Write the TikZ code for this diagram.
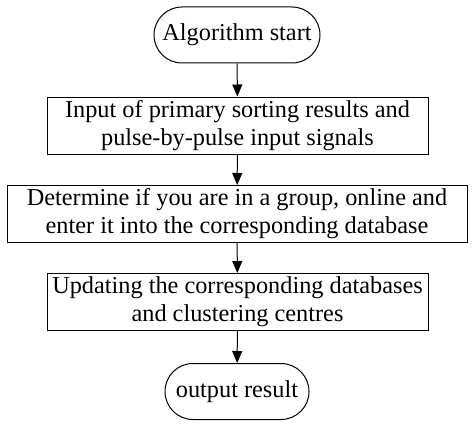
\documentclass[tikz,border=0pt]{standalone}
\usepackage{fontspec}
\setmainfont{Liberation Serif}
\usetikzlibrary{arrows.meta}

\tikzset{
  terminal/.style={draw, line width=1pt, rounded corners=28pt, minimum height=56pt, inner sep=2pt, font=\fontsize{24.3}{28}\selectfont},
  stepbox/.style={draw, line width=1pt, minimum height=57pt, inner sep=2pt, align=center, font=\fontsize{24.3}{28}\selectfont},
  flow/.style={line width=1pt, -{Triangle[width=10pt,length=12pt]}}
}

\begin{document}
\begin{tikzpicture}
\useasboundingbox (0,0) rectangle (474pt,-428pt);
\node[terminal, minimum width=166pt] (start) at (237pt,-35pt) {Algorithm start};
\node[stepbox, minimum width=381pt] (input) at (237.5pt,-125.5pt) {Input of primary sorting results and\\pulse-by-pulse input signals};
\node[stepbox, minimum width=460pt] (group) at (237pt,-214pt) {Determine if you are in a group, online and\\enter it into the corresponding database};
\node[stepbox, minimum width=381pt] (update) at (237.5pt,-302pt) {Updating the corresponding databases\\and clustering centres};
\node[terminal, minimum width=144pt] (result) at (237pt,-391.5pt) {output result};
% connectors
\draw[flow] (start) -- (input);
\draw[flow] (input) -- (group);
\draw[flow] (group) -- (update);
\draw[flow] (update) -- (result);
\end{tikzpicture}
\end{document}
